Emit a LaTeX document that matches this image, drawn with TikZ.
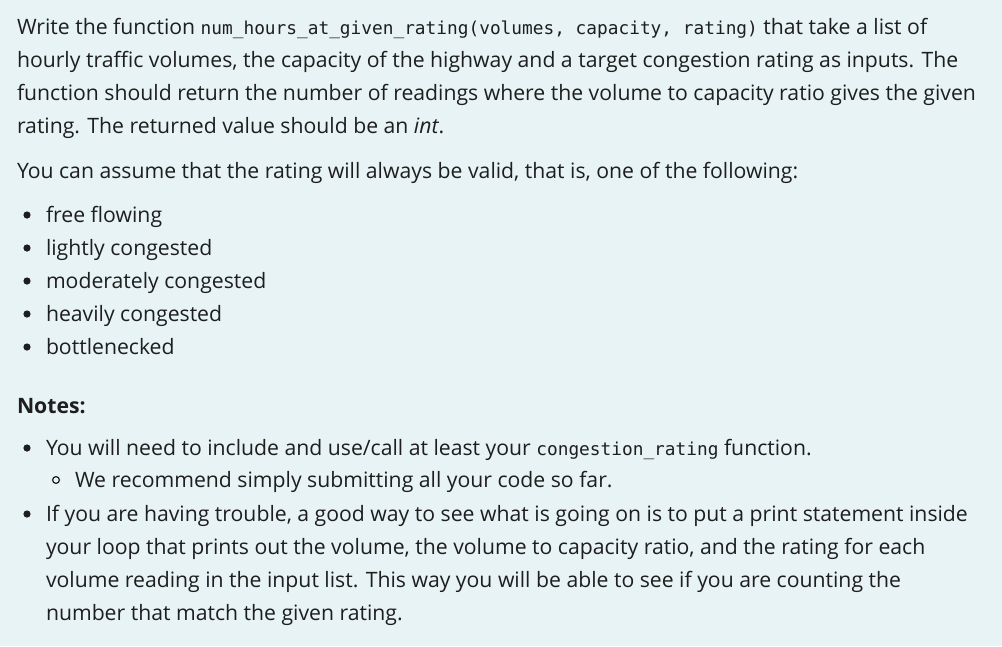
\documentclass[tikz,border=0pt]{standalone}
\usepackage{fontspec}
\setmainfont{Open Sans}
\setmonofont{DejaVu Sans Mono}
\definecolor{bg}{HTML}{E7F3F5}
\definecolor{txt}{HTML}{1E1E1E}
\begin{document}
\begin{tikzpicture}[x=1pt,y=1pt,
  t/.style={anchor=base west,inner sep=0,outer sep=0,text=txt,font=\fontsize{21.2}{24}\selectfont}]
\fill[bg] (0,0) rectangle (1002,-646);
\useasboundingbox (0,0) rectangle (1002,-646);
\newcommand\cdx[1]{{\fontsize{17.8}{20}\ttfamily #1}}
\node[t] (l1) at (17,-34) {Write the function \cdx{num\_hours\_at\_given\_rating(volumes, capacity, rating)} that take a list of};
\node[t] (l2) at (17,-67) {hourly traffic volumes, the capacity of the highway and a target congestion rating as inputs. The};
\node[t] (l3) at (17,-100) {function should return the number of readings where the volume to capacity ratio gives the given};
\node[t] (l4) at (17,-133) {rating. The returned value should be an \textit{int}.};
\node[t] (l5) at (17,-178) {You can assume that the rating will always be valid, that is, one of the following:};
\foreach \y/\s [count=\i] in {222/free flowing,255/lightly congested,288/moderately congested,321/heavily congested,354/bottlenecked}{
  \fill[txt] (27,-\y+7) circle (3.6);
  \node[t] (b\i) at (46,-\y) {\s};
}
\node[t,font=\fontsize{21.2}{24}\selectfont\bfseries] (notes) at (17,-413) {Notes:};
\fill[txt] (27,-455+7) circle (3.6);
\node[t] (n1) at (46,-455) {You will need to include and use/call at least your \cdx{congestion\_rating} function.};
\draw[txt,line width=1.2] (56,-487+7) circle (3.4);
\node[t] (n2) at (75,-487) {We recommend simply submitting all your code so far.};
\fill[txt] (27,-521+7) circle (3.6);
\node[t] (n3) at (46,-521) {If you are having trouble, a good way to see what is going on is to put a print statement inside};
\node[t] (n4) at (46,-554) {your loop that prints out the volume, the volume to capacity ratio, and the rating for each};
\node[t] (n5) at (46,-587) {volume reading in the input list. This way you will be able to see if you are counting the};
\node[t] (n6) at (46,-620) {number that match the given rating.};
\end{tikzpicture}
\end{document}
